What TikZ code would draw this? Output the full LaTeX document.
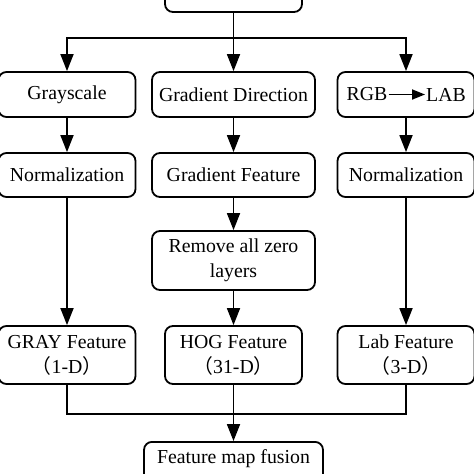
\documentclass[tikz,border=0pt]{standalone}
\usepackage{fontspec}
\setmainfont{Liberation Serif}
\newfontfamily\cjk{Noto Sans CJK SC}
\usetikzlibrary{arrows.meta}
\tikzset{
  box/.style = {
    draw, line width=1.8pt, rounded corners=8pt, align=center,
    inner sep=0pt, font=\fontsize{19.8}{25}\selectfont
  },
  narrow/.style = {box, minimum width=137pt},
  wide/.style = {box, minimum width=163pt},
  plain/.style = {inner sep=1pt, font=\fontsize{19.8}{25}\selectfont},
  flow/.style = {line width=1.8pt, -{Triangle[length=17pt,width=13pt]}},
  link/.style = {line width=1.8pt}
}

\begin{document}
\begin{tikzpicture}[x=1pt,y=-1pt]
  \useasboundingbox (0,0) rectangle (474,474);
  % boxes
  \node[narrow,minimum height=45pt] (input) at (233.5,-10.5) {};
  \node[narrow,minimum height=45pt] (gray) at (67,94.5) {Grayscale};
  \node[wide,minimum height=45pt] (gdir) at (233.5,94.5) {Gradient Direction};
  \node[narrow,minimum height=45pt] (tolab) at (406,94.5) {};
  \node[plain] (rgbname) at (367,94.5) {RGB};
  \node[plain] (labname) at (446,94.5) {LAB};
  \node[narrow,minimum height=44pt] (norml) at (67,175) {Normalization};
  \node[wide,minimum height=44pt] (gfeat) at (233.5,175) {Gradient Feature};
  \node[narrow,minimum height=44pt] (normr) at (406,175) {Normalization};
  \node[wide,minimum height=59pt] (zero) at (233.5,260.5) {Remove all zero\\layers};
  \node[narrow,minimum height=58pt] (grayf) at (67,355) {GRAY Feature\\{\cjk （}1-D{\cjk ）}};
  \node[narrow,minimum height=58pt] (hogf) at (233.5,355) {HOG Feature\\{\cjk （}31-D{\cjk ）}};
  \node[narrow,minimum height=58pt] (labf) at (406,355) {Lab Feature\\{\cjk （}3-D{\cjk ）}};
  \node[box,minimum width=179pt,anchor=north,text height=22pt,text depth=20pt]
    (fusion) at (233.5,441) {Feature map fusion};
  \coordinate (split) at (233.5,38);
  \coordinate (merge) at (233.5,414);
  % connectors
  \draw[link] (input.south) -- (split);
  \draw[flow] (split) -- (gdir.north);
  \draw[flow] (split) -| (gray.north);
  \draw[flow] (split) -| (tolab.north);
  \draw[line width=1.8pt,-{Triangle[length=13pt,width=10pt]}] (rgbname.east) -- (labname.west);
  \draw[flow] (gray) -- (norml);
  \draw[flow] (gdir) -- (gfeat);
  \draw[flow] (tolab) -- (normr);
  \draw[flow] (gfeat) -- (zero);
  \draw[flow] (zero) -- (hogf);
  \draw[flow] (norml) -- (grayf);
  \draw[flow] (normr) -- (labf);
  \draw[link] (grayf.south) |- (merge) -| (labf.south);
  \draw[link] (hogf.south) -- (merge);
  \draw[flow] (merge) -- (fusion.north);
\end{tikzpicture}
\end{document}
